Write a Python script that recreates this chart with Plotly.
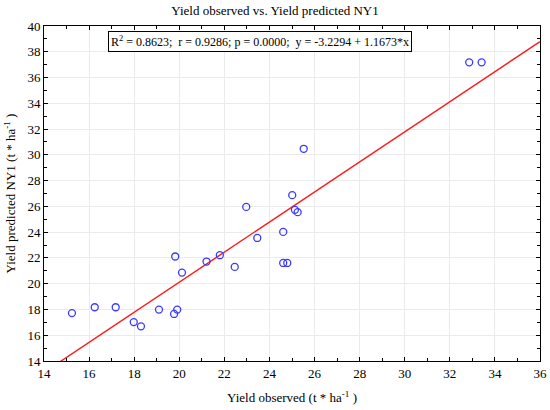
import numpy as np
import plotly.graph_objects as go

# observed vs predicted yield (t * ha-1)
observed = [15.24, 16.25, 17.18, 17.98, 18.30, 19.10, 19.77, 19.91, 19.82, 20.12,
            21.21, 21.80, 22.46, 22.97, 23.46, 24.61, 24.61, 24.79, 25.01, 25.13,
            25.25, 25.52, 32.86, 33.41]
predicted = [17.72, 18.17, 18.17, 17.02, 16.69, 17.99, 17.65, 17.99, 22.11, 20.86,
             21.72, 22.21, 21.30, 25.96, 23.55, 24.02, 21.61, 21.61, 26.87, 25.73,
             25.55, 30.47, 37.18, 37.18]

# regression from the chart's annotation
intercept = -3.2294
slope = 1.1673
x_range = [14, 36]
y_range = [14, 40]

serif = "Liberation Serif"

fig = go.Figure()

xl = np.linspace(x_range[0], x_range[1], 200)
fig.add_trace(go.Scatter(x=xl, y=intercept + slope * xl, mode='lines',
                         line=dict(color='#ff1a1a', width=1.4),
                         hoverinfo='skip', showlegend=False))

fig.add_trace(go.Scatter(x=observed, y=predicted, mode='markers',
                         marker=dict(symbol='circle-open', size=7,
                                     color='#3a3aff', line=dict(width=1.3)),
                         showlegend=False))

axis_common = dict(
    showline=True, linecolor='black', linewidth=1, mirror='ticks',
    ticks='inside', ticklen=4, tickcolor='black', dtick=2,
    showgrid=True, gridcolor='#ebebeb', gridwidth=1,
    zeroline=False, ticklabeloverflow='allow', automargin=False,
    tickfont=dict(family=serif, size=13, color='black'),
    minor=dict(ticks='inside', ticklen=3, dtick=1, tickcolor='black', showgrid=False),
)

fig.update_layout(
    width=550, height=410,
    margin=dict(l=44, r=10, t=26, b=49),
    paper_bgcolor='white', plot_bgcolor='white',
    title=dict(text='Yield observed vs. Yield predicted NY1', x=0.5, xanchor='center',
               y=0.975, yanchor='middle',
               font=dict(family=serif, size=13, color='black')),
    xaxis=dict(range=x_range, **axis_common,
               title=dict(text='Yield observed (t * ha<sup>-1</sup> )', standoff=13,
                          font=dict(family=serif, size=13, color='black'))),
    yaxis=dict(range=y_range, **axis_common,
               title=dict(text='Yield predicted NY1 (t * ha<sup>-1</sup> )', standoff=8,
                          font=dict(family=serif, size=13, color='black'))),
)

fig.add_annotation(
    xref='paper', yref='paper', x=0.435, y=0.985, xanchor='center', yanchor='top',
    text='R<sup>2</sup> = 0.8623;  r = 0.9286; p = 0.0000;  y = -3.2294 + 1.1673*x',
    showarrow=False, bgcolor='white', bordercolor='black', borderwidth=1, borderpad=2,
    font=dict(family=serif, size=12, color='black'),
)

# drop the page's default body margin so the figure sits at the window corner
fig.write_html("out.html", config={'displayModeBar': False},
               post_script="document.body.style.margin = '0';")
